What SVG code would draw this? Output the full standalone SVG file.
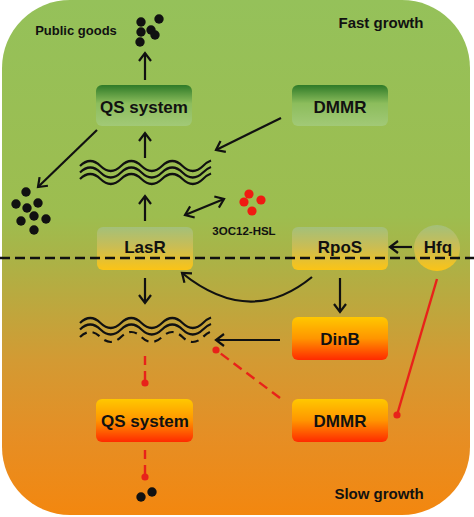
<svg xmlns="http://www.w3.org/2000/svg" width="474" height="517" viewBox="0 0 474 517">
<defs>
<linearGradient id="bg" x1="0" y1="0" x2="0" y2="1">
<stop offset="0" stop-color="#95c15a"/>
<stop offset="0.42" stop-color="#9dbd4f"/>
<stop offset="0.5" stop-color="#aab347"/>
<stop offset="0.7" stop-color="#d39a33"/>
<stop offset="0.85" stop-color="#e68e24"/>
<stop offset="1" stop-color="#f3870f"/>
</linearGradient>
<linearGradient id="gGreen" x1="0" y1="0" x2="0" y2="1">
<stop offset="0" stop-color="#2e7a28"/>
<stop offset="0.45" stop-color="#8cbd5c"/>
<stop offset="1" stop-color="#a2c977"/>
</linearGradient>
<linearGradient id="gYellow" x1="0" y1="0" x2="0" y2="1">
<stop offset="0" stop-color="#a3c07a"/>
<stop offset="0.45" stop-color="#c9bd55"/>
<stop offset="1" stop-color="#fbc416"/>
</linearGradient>
<linearGradient id="gRed" x1="0" y1="0" x2="0" y2="1">
<stop offset="0" stop-color="#ffc800"/>
<stop offset="0.5" stop-color="#ff9500"/>
<stop offset="1" stop-color="#ff2a00"/>
</linearGradient>
<marker id="ah" markerUnits="userSpaceOnUse" markerWidth="16" markerHeight="16" viewBox="-10 -8 12 16" refX="0" refY="0" orient="auto-start-reverse">
<path d="M-8,-6 L0,0 L-8,6" fill="none" stroke="#111" stroke-width="2.2" stroke-linejoin="miter"/>
</marker>
<marker id="dot" markerUnits="userSpaceOnUse" markerWidth="10" markerHeight="10" viewBox="-5 -5 10 10" refX="0" refY="0">
<circle r="3.6" fill="#e8221a"/>
</marker>
</defs>
<style>
.t{font-family:"Liberation Sans",Arial,sans-serif;font-weight:bold;fill:#111;text-anchor:middle;dominant-baseline:central}
.n{font-size:17px}
.ar{fill:none;stroke:#111;stroke-width:2.2;marker-end:url(#ah)}
.wv{fill:none;stroke:#111;stroke-width:2.2}
.rd{fill:none;stroke:#e8221a;stroke-width:2.4;marker-end:url(#dot)}
.bk{fill:#111}
.rc{fill:#f01a12}
</style>
<rect x="0" y="0" width="474" height="517" fill="#fff"/>
<rect x="2" y="0" width="468" height="515" rx="68" ry="68" fill="url(#bg)"/>

<g id="labels">
<text class="t" x="76" y="30" font-size="13">Public goods</text>
<text class="t" x="381" y="22" font-size="15">Fast growth</text>
<text class="t" x="379" y="493" font-size="15">Slow growth</text>
<text class="t" x="244" y="231" font-size="11.5">3OC12-HSL</text>
</g>

<g id="public-goods-top">
<circle class="bk" cx="141" cy="22" r="4.7"/>
<circle class="bk" cx="159" cy="19" r="4.7"/>
<circle class="bk" cx="141" cy="32" r="4.7"/>
<circle class="bk" cx="151" cy="30" r="4.7"/>
<circle class="bk" cx="155" cy="35" r="4.7"/>
<circle class="bk" cx="140" cy="42" r="4.7"/>
</g>
<g id="public-goods-left">
<circle class="bk" cx="26" cy="192" r="4.7"/>
<circle class="bk" cx="16" cy="204" r="4.7"/>
<circle class="bk" cx="27" cy="208" r="4.7"/>
<circle class="bk" cx="38" cy="203" r="4.7"/>
<circle class="bk" cx="34" cy="216" r="4.7"/>
<circle class="bk" cx="46" cy="219" r="4.7"/>
<circle class="bk" cx="21" cy="221" r="4.7"/>
<circle class="bk" cx="34" cy="230" r="4.7"/>
</g>
<g id="public-goods-bottom">
<circle class="bk" cx="141" cy="497" r="4.7"/>
<circle class="bk" cx="152" cy="492" r="4.7"/>
</g>
<g id="hsl">
<circle class="rc" cx="249" cy="194" r="4.6"/>
<circle class="rc" cx="261" cy="200" r="4.6"/>
<circle class="rc" cx="244" cy="202" r="4.6"/>
<circle class="rc" cx="252" cy="211" r="4.6"/>
</g>

<g id="mrna-top">
<path class="wv" d="M80,166 q10.25,-10 20.5,0 t20.5,0 t20.5,0 t20.5,0 t20.5,0 t20.5,0 q4,-4 8,-5.5"/>
<path class="wv" d="M80,172.5 q10.25,-10 20.5,0 t20.5,0 t20.5,0 t20.5,0 t20.5,0 t20.5,0 q4,-4 8,-5.5"/>
<path class="wv" d="M80,179 q10.25,-10 20.5,0 t20.5,0 t20.5,0 t20.5,0 t20.5,0 t20.5,0 q4,-4 8,-5.5"/>
</g>
<g id="mrna-bottom">
<path class="wv" d="M80,323 q10.25,-10 20.5,0 t20.5,0 t20.5,0 t20.5,0 t20.5,0 t20.5,0 q4,-4 8,-5.5"/>
<path class="wv" d="M80,329.5 q10.25,-10 20.5,0 t20.5,0 t20.5,0 t20.5,0 t20.5,0 t20.5,0 q4,-4 8,-5.5"/>
<path class="wv" stroke-dasharray="8 6" d="M80,337 q10.25,-10 20.5,0 t20.5,0 t20.5,0 t20.5,0 t20.5,0 t20.5,0 q4,-4 8,-5.5"/>
</g>

<g id="qs-top">
<rect x="96" y="85" width="96" height="41" rx="6" fill="url(#gGreen)"/>
<text class="t n" x="144" y="107">QS system</text>
</g>
<g id="dmmr-top">
<rect x="292" y="85" width="96" height="41" rx="6" fill="url(#gGreen)"/>
<text class="t n" x="340" y="107">DMMR</text>
</g>
<g id="lasr">
<rect x="97" y="227" width="96" height="43" rx="6" fill="url(#gYellow)"/>
<text class="t n" x="145" y="247">LasR</text>
</g>
<g id="rpos">
<rect x="292" y="227" width="96" height="43" rx="6" fill="url(#gYellow)"/>
<text class="t n" x="340" y="247">RpoS</text>
</g>
<g id="hfq">
<circle cx="437" cy="248" r="23" fill="url(#gYellow)"/>
<text class="t n" x="438" y="247">Hfq</text>
</g>
<g id="dinb">
<rect x="292" y="317" width="96" height="43" rx="6" fill="url(#gRed)"/>
<text class="t n" x="340" y="339">DinB</text>
</g>
<g id="qs-bottom">
<rect x="96" y="399" width="97" height="43" rx="6" fill="url(#gRed)"/>
<text class="t n" x="145" y="421">QS system</text>
</g>
<g id="dmmr-bottom">
<rect x="292" y="399" width="96" height="43" rx="6" fill="url(#gRed)"/>
<text class="t n" x="340" y="421">DMMR</text>
</g>

<line x1="0" y1="258" x2="474" y2="258" stroke="#111" stroke-width="2.5" stroke-dasharray="10 5"/>

<g id="connectors">
<line class="ar" x1="145" y1="80" x2="145" y2="53"/>
<line class="ar" x1="97" y1="130" x2="38" y2="187"/>
<line class="ar" x1="145" y1="158" x2="145" y2="133"/>
<line class="ar" x1="145" y1="221" x2="145" y2="196"/>
<line class="ar" x1="281" y1="118" x2="216" y2="150"/>
<line class="ar" x1="185" y1="215" x2="224" y2="199" style="marker-start:url(#ah)"/>
<line class="ar" x1="412" y1="247" x2="390" y2="247"/>
<line class="ar" x1="145" y1="278" x2="145" y2="303"/>
<path class="ar" d="M312,277 Q250,328 182,273"/>
<line class="ar" x1="340" y1="278" x2="340" y2="312"/>
<line class="ar" x1="280" y1="340" x2="216" y2="340"/>
<line class="rd" x1="145" y1="356" x2="145" y2="383" stroke-dasharray="9 6"/>
<line class="rd" x1="280" y1="398" x2="216" y2="350" stroke-dasharray="10 6"/>
<line class="rd" x1="437" y1="279" x2="397" y2="415"/>
<line class="rd" x1="145" y1="450" x2="145" y2="477" stroke-dasharray="9 6"/>
</g>
</svg>
